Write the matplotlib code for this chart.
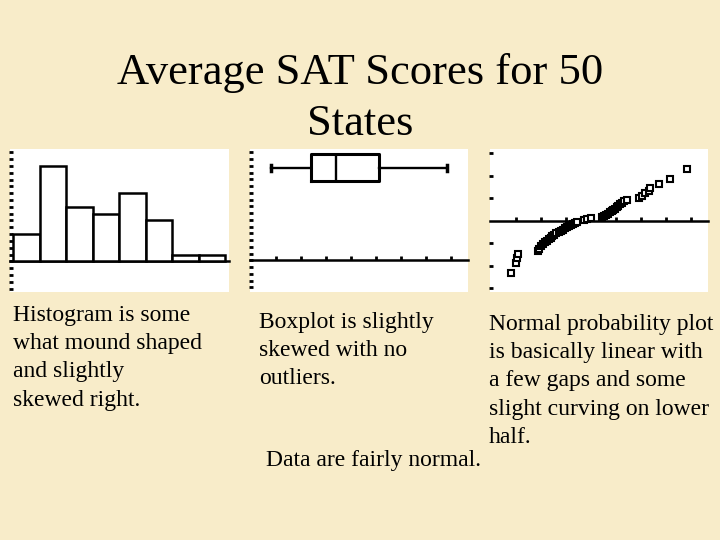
import matplotlib.pyplot as plt
import numpy as np

# histogram of state averages
hist_edges = [845, 870, 895, 920, 945, 970, 995, 1020, 1045]
hist_counts = [4, 14, 8, 7, 10, 6, 1, 1]

# five number summary for the boxplot
box_min, box_q1, box_med, box_q3, box_max = 845, 885, 910, 953, 1021

# normal probability plot: score vs normal score
norm_x = [845, 850, 851, 852, 872, 873, 875, 877, 879, 881,
          883, 885, 886, 888, 890, 893, 895, 897, 899, 901,
          903, 905, 907, 909, 911, 918, 921, 925, 936, 938,
          940, 942, 944, 946, 947, 949, 951, 952, 954, 956,
          958, 961, 973, 976, 979, 983, 984, 993, 1004, 1021]
norm_z = [-2.33, -1.88, -1.64, -1.48, -1.34, -1.23, -1.13, -1.04, -0.95, -0.88,
          -0.81, -0.74, -0.67, -0.61, -0.55, -0.50, -0.44, -0.39, -0.33, -0.28,
          -0.23, -0.18, -0.13, -0.08, -0.03, 0.03, 0.08, 0.13, 0.18, 0.23,
          0.28, 0.33, 0.39, 0.44, 0.50, 0.55, 0.61, 0.67, 0.74, 0.81,
          0.88, 0.95, 1.04, 1.13, 1.23, 1.34, 1.48, 1.64, 1.88, 2.33]

xticks = [850, 875, 900, 925, 950, 975, 1000, 1025]

bg = '#f8ecc9'
serif = ['Liberation Serif', 'DejaVu Serif']

fig = plt.figure(figsize=(7.2, 5.4), dpi=100, facecolor=bg)


def calc_axes(ax, xlim, ylim, yticks):
    ax.set_facecolor('white')
    ax.set_xlim(*xlim)
    ax.set_ylim(*ylim)
    for s in ['top', 'right']:
        ax.spines[s].set_visible(False)
    ax.spines['bottom'].set_position(('data', 0))
    ax.spines['bottom'].set_linewidth(1.8)
    ax.spines['left'].set_position(('data', xlim[0] + 0.004 * (xlim[1] - xlim[0])))
    ax.spines['left'].set_color('none')
    ax.set_xticks(xticks)
    ax.set_yticks(yticks)
    ax.tick_params(axis='x', direction='in', length=3, width=2, labelbottom=False)
    ax.tick_params(axis='y', direction='inout', length=2.2, width=2, labelleft=False)


# histogram
ax1 = fig.add_axes([10 / 720, 1 - 292 / 540, 219 / 720, 143 / 540])
calc_axes(ax1, (842, 1048.5), (-4.5, 16.5), np.arange(-4, 17))
ax1.bar(hist_edges[:-1], hist_counts, width=np.diff(hist_edges), align='edge',
        facecolor='white', edgecolor='black', linewidth=1.8, zorder=3)

# boxplot
ax2 = fig.add_axes([250 / 720, 1 - 292 / 540, 218 / 720, 143 / 540])
calc_axes(ax2, (824.3, 1042), (-4.7, 16.5), np.arange(-4, 17))
stats = [dict(whislo=box_min, q1=box_q1, med=box_med, q3=box_q3, whishi=box_max, fliers=[])]
lw = 1.7
ax2.bxp(stats, positions=[13.7], widths=4.0, orientation='horizontal', capwidths=0.8,
        boxprops=dict(color='black', linewidth=2.2),
        medianprops=dict(color='black', linewidth=lw),
        whiskerprops=dict(color='black', linewidth=lw),
        capprops=dict(color='black', linewidth=2.5), manage_ticks=False)

# normal probability plot
ax3 = fig.add_axes([490 / 720, 1 - 292 / 540, 218 / 720, 143 / 540])
calc_axes(ax3, (824.3, 1042), (-3.16, 3.2), [-3, -2, -1, 1, 2, 3])
ax3.plot(norm_x, norm_z, ls='none', marker='s', ms=4.8, mfc='white', mec='black', mew=1.5,
         zorder=3)

# text
fig.text(0.5, 1 - 53 / 540, 'Average SAT Scores for 50\nStates', ha='center', va='top',
         fontsize=32, family=serif, linespacing=1.36)
fs = 17
ls = 1.45
fig.text(13 / 720, 1 - 305 / 540, 'Histogram is some\nwhat mound shaped\nand slightly\nskewed right.',
         ha='left', va='top', fontsize=fs, family=serif, linespacing=ls)
fig.text(259 / 720, 1 - 312 / 540, 'Boxplot is slightly\nskewed with no\noutliers.',
         ha='left', va='top', fontsize=fs, family=serif, linespacing=ls)
fig.text(489 / 720, 1 - 314 / 540, 'Normal probability plot\nis basically linear with\n'
         'a few gaps and some\nslight curving on lower\nhalf.',
         ha='left', va='top', fontsize=fs, family=serif, linespacing=ls)
fig.text(266 / 720, 1 - 450 / 540, 'Data are fairly normal.', ha='left', va='top',
         fontsize=fs, family=serif)

fig.savefig('out.png', dpi=100, facecolor=bg)
